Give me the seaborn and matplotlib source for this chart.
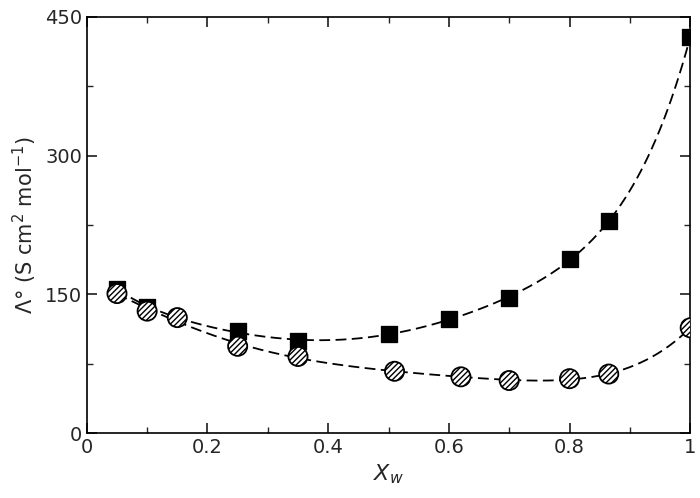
import numpy as np
import matplotlib
matplotlib.use("Agg")
import matplotlib.pyplot as plt
import seaborn as sns

sq_x = [0.05, 0.10, 0.25, 0.35, 0.50, 0.60, 0.70, 0.80, 0.865, 1.00]
sq_y = [156, 137, 110, 100, 107, 124, 146, 188, 229, 428]
ci_x = [0.05, 0.10, 0.15, 0.25, 0.35, 0.51, 0.62, 0.70, 0.80, 0.865, 1.00]
ci_y = [151, 132, 125, 94, 83, 67, 61, 57, 59, 64, 114]

sns.set_theme(style="ticks")
plt.rcParams['font.family'] = ['DejaVu Sans']
fig, ax = plt.subplots(figsize=(7, 4.98), dpi=100)
fig.subplots_adjust(left=0.124, right=0.986, bottom=0.13, top=0.966)

xs = np.linspace(0.05, 1.0, 300)
ps = np.polyfit(sq_x, sq_y, 6)
pc = np.polyfit(ci_x, ci_y, 5)
ax.plot(xs, np.polyval(ps, xs), ls=(0, (6, 3)), color='black', lw=1.3)
ax.plot(xs, np.polyval(pc, xs), ls=(0, (6, 3)), color='black', lw=1.3)

sns.scatterplot(x=sq_x, y=sq_y, marker='s', s=140, color='black', edgecolor='black', ax=ax, zorder=3)
ax.scatter(ci_x, ci_y, s=190, marker='o', facecolor='white', edgecolor='black', hatch='//////', lw=1.3, zorder=4)

ax.set_xlim(0, 1)
ax.set_ylim(0, 450)
ax.set_xticks([0, 0.2, 0.4, 0.6, 0.8, 1])
ax.set_xticklabels(['0', '0.2', '0.4', '0.6', '0.8', '1'])
ax.set_yticks([0, 150, 300, 450])
ax.set_xticks(np.arange(0, 1.01, 0.1), minor=True)
ax.set_yticks(np.arange(0, 451, 75), minor=True)
ax.tick_params(direction='in', which='both', top=True, right=True, labelsize=14)
ax.tick_params(which='major', length=7)
ax.tick_params(which='minor', length=4)
for s in ax.spines.values():
    s.set_linewidth(1.2)
    s.set_color('black')
ax.set_xlabel('$X_w$', fontsize=16)
ax.set_ylabel('Λ° (S cm$^2$ mol$^{-1}$)', fontsize=15)
fig.savefig('out.png')
